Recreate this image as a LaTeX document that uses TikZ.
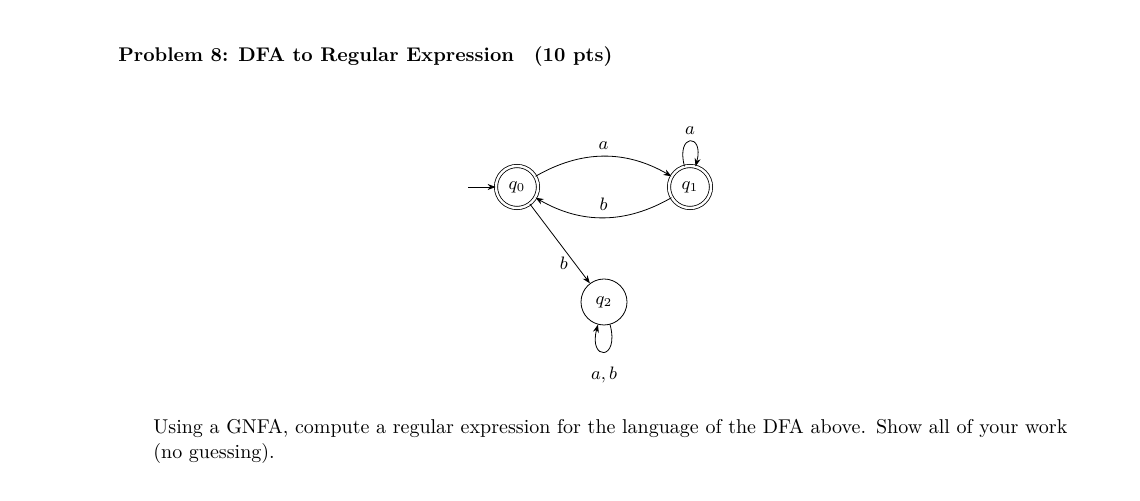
\documentclass[tikz,border=0pt]{standalone}
\usetikzlibrary{automata,arrows.meta,positioning}
\begin{document}
\begin{tikzpicture}[x=0.5pt,y=-0.5pt,
  st/.style={circle,draw,minimum size=21pt,inner sep=0pt,font=\small},
  acc/.style={st,double,double distance=1.2pt},
  lab/.style={font=\small},
  every edge/.style={draw,-{Stealth[length=4pt]},thin},
  >={Stealth[length=4pt]}]
\useasboundingbox (0,0) rectangle (1140,501);
\node[anchor=base west,inner sep=0pt,font=\bfseries\fontsize{9.9}{12}\selectfont] (title) at (118,62) {Problem 8: DFA to Regular Expression\quad (10 pts)};
\node[acc] (q0) at (517,187) {$q_0$};
\node[acc] (q1) at (690,187) {$q_1$};
\node[st,minimum size=23pt] (q2) at (604,302) {$q_2$};
\coordinate (init) at (468,187);
\draw[->,thin] (init) -- (q0);
\path (q0) edge[bend left=30] node[above,lab] {$a$} (q1)
      (q1) edge[bend left=30] node[above,lab] {$b$} (q0)
      (q0) edge node[left,lab,pos=0.75] {$b$} (q2)
      (q1) edge[loop above,min distance=8pt,looseness=8] node[above,lab] {$a$} (q1)
      (q2) edge[loop below,min distance=8pt,looseness=8] node[below,lab,yshift=-4pt] {$a,b$} (q2);
\node[anchor=north west,text width=465pt,align=left,inner sep=0pt,font=\fontsize{10}{12.3}\selectfont] (body) at (153,419) {Using a GNFA, compute a regular expression for the language of the DFA above. Show all of your work (no guessing).};
\end{tikzpicture}
\end{document}
